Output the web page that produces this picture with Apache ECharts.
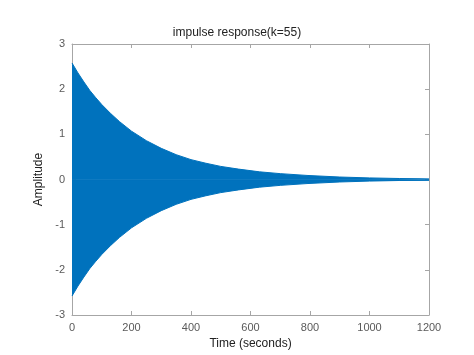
<!DOCTYPE html>
<html>
<head>
<meta charset="utf-8">
<script src="https://cdn.jsdelivr.net/npm/echarts@6/dist/echarts.min.js"></script>
<style>
html,body{margin:0;padding:0;background:#fff;}
#c{width:474px;height:355px;}
</style>
</head>
<body>
<div id="c"></div>
<script>
// Envelope of the dense oscillation
var times = [0, 20, 40, 60, 80, 100, 130, 160, 200, 250, 300, 350, 400, 450, 500, 560, 630, 700, 790, 900, 1000, 1100, 1200];
var upperEnv = [2.58, 2.36, 2.16, 1.97, 1.81, 1.66, 1.46, 1.28, 1.07, 0.86, 0.69, 0.55, 0.44, 0.36, 0.29, 0.23, 0.17, 0.13, 0.09, 0.055, 0.035, 0.022, 0.014];
var xTicks = [0, 200, 400, 600, 800, 1000, 1200];
var yTicks = [-3, -2, -1, 0, 1, 2, 3];

var upper = times.map(function (t, i) { return [t, upperEnv[i]]; });
var lower = times.map(function (t, i) { return [t, -upperEnv[i]]; });

var blue = '#0072BD';
var axisGray = '#a6a6a6';
var labelGray = '#5a5a5a';
var font = 'Liberation Sans, Arial, sans-serif';

var chart = echarts.init(document.getElementById('c'), null, {renderer: 'canvas'});
function axisLine() { return {show: true, onZero: false, lineStyle: {color: axisGray, width: 1}}; }
function ticks() { return {show: true, inside: true, length: 4, lineStyle: {color: axisGray}}; }
var plain = function (v) { return String(v); };
chart.setOption({
  animation: false,
  backgroundColor: '#fff',
  title: {
    text: 'impulse response(k=55)',
    left: 'center',
    top: 22,
    textStyle: {fontFamily: font, fontSize: 12, fontWeight: 'normal', color: '#222'}
  },
  grid: {left: 72, right: 45, top: 44, bottom: 40, containLabel: false},
  xAxis: [{
    type: 'value', min: xTicks[0], max: xTicks[xTicks.length - 1], interval: 200,
    position: 'bottom',
    name: 'Time (seconds)', nameLocation: 'middle', nameGap: 18,
    nameTextStyle: {fontFamily: font, fontSize: 12, color: '#222'},
    axisLine: axisLine(), axisTick: ticks(),
    axisLabel: {fontFamily: font, fontSize: 11, color: labelGray, margin: 7, formatter: plain},
    splitLine: {show: false}
  }, {
    type: 'value', min: xTicks[0], max: xTicks[xTicks.length - 1], interval: 200,
    position: 'top',
    axisLine: axisLine(), axisTick: ticks(),
    axisLabel: {show: false},
    splitLine: {show: false}
  }],
  yAxis: [{
    type: 'value', min: yTicks[0], max: yTicks[yTicks.length - 1], interval: 1,
    position: 'left',
    name: 'Amplitude', nameLocation: 'middle', nameGap: 20,
    nameTextStyle: {fontFamily: font, fontSize: 12, color: '#222'},
    axisLine: axisLine(), axisTick: ticks(),
    axisLabel: {fontFamily: font, fontSize: 11, color: labelGray, margin: 7, formatter: plain},
    splitLine: {show: false}
  }, {
    type: 'value', min: yTicks[0], max: yTicks[yTicks.length - 1], interval: 1,
    position: 'right',
    axisLine: axisLine(), axisTick: ticks(),
    axisLabel: {show: false},
    splitLine: {show: false}
  }],
  series: [{
    type: 'line', data: upper, symbol: 'none',
    lineStyle: {color: blue, width: 1},
    areaStyle: {color: blue, opacity: 1, origin: 0},
    markLine: {
      silent: true, symbol: 'none', label: {show: false},
      lineStyle: {color: blue, width: 1.5, type: 'solid'},
      data: [{yAxis: 0}]
    },
    z: 2
  }, {
    type: 'line', data: lower, symbol: 'none',
    lineStyle: {color: blue, width: 1},
    areaStyle: {color: blue, opacity: 1, origin: 0},
    z: 2
  }]
});
</script>
</body>
</html>
